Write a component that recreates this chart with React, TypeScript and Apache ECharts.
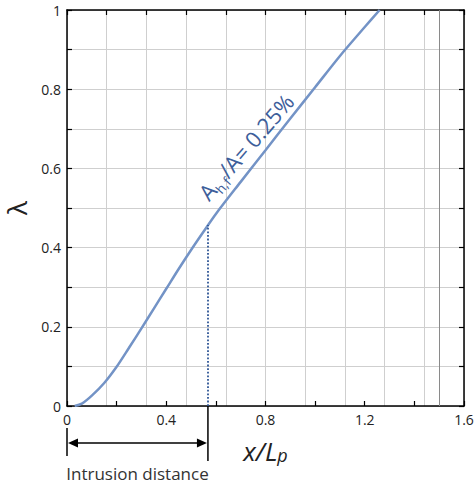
import React, { useEffect, useRef } from "react";
import * as echarts from "echarts";

const X_VALUES = [0.031, 0.06, 0.1, 0.15, 0.2, 0.25, 0.3, 0.35, 0.4, 0.45, 0.5, 0.55, 0.6, 0.7, 0.8, 0.9, 1.0, 1.1, 1.2, 1.26];
const LAMBDA = [0, 0.006, 0.026, 0.058, 0.099, 0.147, 0.196, 0.246, 0.296, 0.346, 0.394, 0.44, 0.485, 0.566, 0.646, 0.726, 0.805, 0.884, 0.957, 1.0];
const INTRUSION_X = 0.568;
const INTRUSION_LAMBDA = 0.457;
const EXTRA_GRID_X = 1.5;
const CURVE_LABEL_POS = [0.72, 0.655];
const X_LABEL_STEP = 0.4;
const Y_LABEL_STEP = 0.2;

const FONT = "'Open Sans', sans-serif";

export default function App() {
  const ref = useRef<HTMLDivElement>(null);
  useEffect(() => {
    if (!ref.current) return;
    const chart = echarts.init(ref.current, undefined, { renderer: "svg" });
    const data = X_VALUES.map((x, i) => [x, LAMBDA[i]]);
    const isMultiple = (v: number, step: number) => Math.abs(Math.round(v / step) * step - v) < 1e-6;
    chart.setOption({
      animation: false,
      grid: { left: 67, right: 10, top: 10, bottom: 79, containLabel: false, outerBoundsMode: "none" },
      xAxis: [
        {
          type: "value", min: 0, max: 1.6, interval: 0.2, position: "bottom",
          axisLine: { show: true, onZero: false, lineStyle: { color: "#000", width: 1.5 } },
          axisTick: { show: true, inside: true, length: 5, lineStyle: { color: "#000", width: 1.2 } },
          axisLabel: {
            color: "#222", fontSize: 14, fontFamily: FONT, margin: 6,
            formatter: (v: number) => (isMultiple(v, X_LABEL_STEP) ? String(Math.round(v * 10) / 10) : ""),
          },
          splitLine: { show: false },
          name: "{i|x/L}{p|p}",
          nameLocation: "middle",
          nameGap: 28,
          nameTextStyle: {
            rich: {
              i: { fontSize: 26, fontStyle: "italic", fontFamily: FONT, color: "#222", lineHeight: 30, verticalAlign: "bottom" },
              p: { fontSize: 18, fontStyle: "italic", fontFamily: FONT, color: "#222", lineHeight: 24, verticalAlign: "bottom" },
            },
          },
        },
        {
          type: "value", min: 0, max: 1.6, interval: 0.16, position: "top",
          axisLine: { show: true, onZero: false, lineStyle: { color: "#000", width: 1.5 } },
          axisTick: { show: true, inside: true, length: 5, lineStyle: { color: "#000", width: 1.2 } },
          axisLabel: { show: false },
          splitLine: { show: true, lineStyle: { color: "#cfcfcf", width: 1 } },
        },
      ],
      yAxis: [
        {
          type: "value", min: 0, max: 1, interval: 0.1, position: "left",
          axisLine: { show: true, onZero: false, lineStyle: { color: "#000", width: 1.5 } },
          axisTick: { show: true, inside: true, length: 5, lineStyle: { color: "#000", width: 1.2 } },
          axisLabel: {
            color: "#222", fontSize: 14, fontFamily: FONT, margin: 6,
            formatter: (v: number) => (isMultiple(v, Y_LABEL_STEP) ? String(Math.round(v * 10) / 10) : ""),
          },
          splitLine: { show: true, lineStyle: { color: "#cfcfcf", width: 1 } },
          name: "λ",
          nameLocation: "middle",
          nameGap: 35,
          nameTextStyle: { fontSize: 26, fontFamily: FONT, color: "#222", lineHeight: 26 },
        },
        {
          type: "value", min: 0, max: 1, interval: 0.1, position: "right",
          axisLine: { show: true, onZero: false, lineStyle: { color: "#000", width: 1.5 } },
          axisTick: { show: true, inside: true, length: 5, lineStyle: { color: "#000", width: 1.2 } },
          axisLabel: { show: false },
          splitLine: { show: false },
        },
      ],
      series: [
        {
          type: "line",
          data,
          smooth: 0.3,
          symbol: "none",
          lineStyle: { color: "#7393c6", width: 2.5 },
          markLine: {
            silent: true,
            symbol: "none",
            label: { show: false },
            data: [
              [
                { coord: [INTRUSION_X, 0], lineStyle: { color: "#2e5596", type: "dotted", width: 1.8 } },
                { coord: [INTRUSION_X, INTRUSION_LAMBDA] },
              ],
              [
                { coord: [EXTRA_GRID_X, 0], lineStyle: { color: "#8a8a8a", type: "solid", width: 1 } },
                { coord: [EXTRA_GRID_X, 1] },
              ],
            ],
          },
        },
      ],
    });

    const [x0, yBase] = chart.convertToPixel({ gridIndex: 0 }, [0, 0]) as number[];
    const [x1] = chart.convertToPixel({ gridIndex: 0 }, [INTRUSION_X, 0]) as number[];
    const [lx, ly] = chart.convertToPixel({ gridIndex: 0 }, CURVE_LABEL_POS) as number[];
    const ay = yBase + 37;
    chart.setOption({
      graphic: [
        { type: "line", shape: { x1: x0, y1: yBase + 22, x2: x0, y2: yBase + 50 }, style: { stroke: "#000", lineWidth: 1.5 } },
        { type: "line", shape: { x1: x1, y1: yBase, x2: x1, y2: yBase + 55 }, style: { stroke: "#000", lineWidth: 1.5 } },
        { type: "line", shape: { x1: x0 + 4, y1: ay, x2: x1 - 4, y2: ay }, style: { stroke: "#000", lineWidth: 1.5 } },
        { type: "polygon", shape: { points: [[x0 + 1, ay], [x0 + 11, ay - 4.5], [x0 + 11, ay + 4.5]] }, style: { fill: "#000" } },
        { type: "polygon", shape: { points: [[x1 - 1, ay], [x1 - 11, ay - 4.5], [x1 - 11, ay + 4.5]] }, style: { fill: "#000" } },
        {
          type: "text", x: (x0 + x1) / 2, y: yBase + 67,
          style: { text: "Intrusion distance", fill: "#333", font: `17px ${FONT}`, align: "center", verticalAlign: "middle" },
        },
        {
          type: "text", x: lx, y: ly, rotation: (49 * Math.PI) / 180,
          style: {
            text: "{a|A}{s|h,f}{a|/A= 0.25%}",
            align: "center",
            verticalAlign: "middle",
            rich: {
              a: { fontSize: 22, fontFamily: FONT, fill: "#3d5e9a", lineHeight: 30, verticalAlign: "middle" },
              s: { fontSize: 13, fontFamily: FONT, fill: "#3d5e9a", lineHeight: 30, verticalAlign: "bottom" },
            },
          },
        },
      ],
    });
    return () => chart.dispose();
  }, []);
  return <div ref={ref} style={{ width: 474, height: 485, position: "absolute", left: 0, top: 0 }} />;
}
